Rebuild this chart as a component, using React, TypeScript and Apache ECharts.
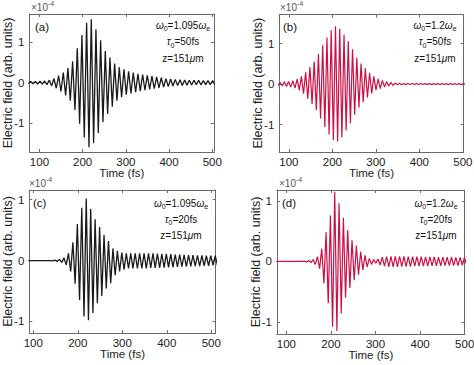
import React, { useEffect, useRef } from 'react';
import * as echarts from 'echarts';

// ---- data (units of 1e-4 arb. units, time in fs) ----
const xTicks = [100, 200, 300, 400, 500];
const yTicks = [-1, 0, 1];

// (a) omega0 = 1.095 omega_e, tau0 = 50 fs : extrema of the field
const timeA = [74.2, 79.6, 85.0, 90.4, 95.8, 101.2, 106.6, 112.0, 117.4, 122.8,
  128.2, 133.6, 139.0, 144.4, 149.8, 155.2, 160.6, 166.0, 171.4, 176.8,
  182.2, 187.6, 193.0, 198.4, 203.8, 209.2, 214.6, 220.0, 225.4, 230.8,
  236.2, 241.6, 247.0, 252.4, 257.8, 263.2, 268.6, 274.0, 279.4, 284.8,
  290.2, 295.6, 301.0, 306.4, 311.8, 317.2, 322.6, 328.0, 333.4, 338.8,
  344.2, 349.6, 355.0, 360.4, 365.8, 371.2, 376.6, 382.0, 387.4, 392.8,
  398.2, 403.6, 409.0, 414.4, 419.8, 425.2, 430.6, 436.0, 441.4, 446.8,
  452.2, 457.6, 463.0, 468.4, 473.8, 479.2, 484.6, 490.0, 495.4, 500.8,
  506.2];
const fieldA = [-0.03, 0.03, -0.03, 0.03, -0.035, 0.035, -0.04, 0.04, -0.05, 0.06,
  -0.08, 0.1, -0.14, 0.17, -0.22, 0.25, -0.32, 0.36, -0.45, 0.53,
  -0.68, 0.85, -1.02, 1.18, -1.36, 1.48, -1.6, 1.57, -1.5, 1.32,
  -1.25, 1.05, -0.98, 0.78, -0.78, 0.62, -0.6, 0.47, -0.45, 0.38,
  -0.36, 0.33, -0.3, 0.28, -0.27, 0.25, -0.24, 0.22, -0.21, 0.2,
  -0.19, 0.18, -0.17, 0.16, -0.15, 0.14, -0.13, 0.12, -0.11, 0.1,
  -0.1, 0.09, -0.085, 0.08, -0.075, 0.07, -0.07, 0.065, -0.065, 0.06,
  -0.06, 0.06, -0.055, 0.055, -0.055, 0.05, -0.05, 0.05, -0.05, 0.05,
  -0.05];

// (b) omega0 = 1.2 omega_e, tau0 = 50 fs
const timeB = [74.9, 79.8, 84.7, 89.6, 94.5, 99.4, 104.3, 109.2, 114.1, 119.0,
  123.9, 128.8, 133.7, 138.6, 143.5, 148.4, 153.3, 158.2, 163.1, 168.0,
  172.9, 177.8, 182.7, 187.6, 192.5, 197.4, 202.3, 207.2, 212.1, 217.0,
  221.9, 226.8, 231.7, 236.6, 241.5, 246.4, 251.3, 256.2, 261.1, 266.0,
  270.9, 275.8, 280.7, 285.6, 290.5, 295.4, 300.3, 305.2, 310.1, 315.0,
  319.9, 324.8, 329.7, 334.6, 339.5, 344.4, 349.3, 354.2, 359.1, 364.0,
  368.9, 373.8, 378.7, 383.6, 388.5, 393.4, 398.3, 403.2, 408.1, 413.0,
  417.9, 422.8, 427.7, 432.6, 437.5, 442.4, 447.3, 452.2, 457.1, 462.0,
  466.9, 471.8, 476.7, 481.6, 486.5, 491.4, 496.3, 501.2, 506.1];
const fieldB = [-0.04, 0.045, -0.05, 0.055, -0.06, 0.065, -0.075, 0.085, -0.1, 0.12,
  -0.15, 0.19, -0.24, 0.29, -0.36, 0.42, -0.49, 0.56, -0.65, 0.74,
  -0.85, 0.96, -1.06, 1.15, -1.25, 1.33, -1.38, 1.43, -1.42, 1.37,
  -1.32, 1.22, -1.15, 1.06, -0.97, 0.86, -0.76, 0.65, -0.58, 0.51,
  -0.45, 0.39, -0.33, 0.28, -0.23, 0.19, -0.15, 0.13, -0.11, 0.09,
  -0.075, 0.06, -0.05, 0.04, -0.032, 0.025, -0.02, 0.018, -0.016, 0.015,
  -0.014, 0.014, -0.013, 0.013, -0.013, 0.012, -0.012, 0.012, -0.012, 0.011,
  -0.011, 0.011, -0.011, 0.011, -0.01, 0.01, -0.01, 0.01, -0.01, 0.01,
  -0.01, 0.01, -0.01, 0.01, -0.01, 0.01, -0.01, 0.01, -0.01];

// (c) omega0 = 1.095 omega_e, tau0 = 20 fs
const timeC = [89, 94, 99, 104, 109, 114, 119, 124, 129, 134,
  139, 144, 149, 154, 159, 164, 169, 174, 179, 184,
  189, 194, 199, 204, 209, 214, 219, 224, 229, 234,
  239, 244, 249, 254, 259, 264, 269, 274, 279, 284,
  289, 294, 299, 304, 309, 314, 319, 324, 329, 334,
  339, 344, 349, 354, 359, 364, 369, 374, 379, 384,
  389, 394, 399, 404, 409, 414, 419, 424, 429, 434,
  439, 444, 449, 454, 459, 464, 469, 474, 479, 484,
  489, 494, 499, 504, 509, 514];
const fieldC = [0, 0, 0, 0, 0, 0, 0, 0, 0, 0,
  0, -0.005, 0.008, -0.012, 0.02, -0.03, 0.045, -0.07, 0.12, -0.18,
  0.3, -0.38, 0.6, -0.65, 0.87, -0.92, 1.02, -0.98, 0.85, -0.86,
  0.68, -0.7, 0.55, -0.58, 0.42, -0.46, 0.32, -0.37, 0.2, -0.24,
  0.16, -0.18, 0.13, -0.15, 0.12, -0.13, 0.12, -0.13, 0.12, -0.13,
  0.12, -0.13, 0.12, -0.13, 0.12, -0.12, 0.12, -0.12, 0.115, -0.12,
  0.11, -0.115, 0.11, -0.11, 0.105, -0.11, 0.1, -0.105, 0.1, -0.1,
  0.095, -0.1, 0.09, -0.095, 0.09, -0.09, 0.085, -0.09, 0.085, -0.085,
  0.08, -0.085, 0.08, -0.08, 0.08, -0.08];

// (d) omega0 = 1.2 omega_e, tau0 = 20 fs
const timeD = [77.55, 82.4, 87.25, 92.1, 96.95, 101.8, 106.65, 111.5, 116.35, 121.2,
  126.05, 130.9, 135.75, 140.6, 145.45, 150.3, 155.15, 160.0, 164.85, 169.7,
  174.55, 179.4, 184.25, 189.1, 193.95, 198.8, 203.65, 208.5, 213.35, 218.2,
  223.05, 227.9, 232.75, 237.6, 242.45, 247.3, 252.15, 257.0, 261.85, 266.7,
  271.55, 276.4, 281.25, 286.1, 290.95, 295.8, 300.65, 305.5, 310.35, 315.2,
  320.05, 324.9, 329.75, 334.6, 339.45, 344.3, 349.15, 354.0, 358.85, 363.7,
  368.55, 373.4, 378.25, 383.1, 387.95, 392.8, 397.65, 402.5, 407.35, 412.2,
  417.05, 421.9, 426.75, 431.6, 436.45, 441.3, 446.15, 451.0, 455.85, 460.7,
  465.55, 470.4, 475.25, 480.1, 484.95, 489.8, 494.65, 499.5, 504.35];
const fieldD = [0, 0, 0, 0, 0, 0, 0, 0, 0, 0,
  0, 0, 0, 0.005, -0.01, 0.015, -0.02, 0.03, -0.05, 0.08,
  -0.12, 0.21, -0.36, 0.48, -0.69, 0.76, -1.08, 1.15, -1.15, 0.96,
  -0.86, 0.72, -0.6, 0.52, -0.44, 0.35, -0.31, 0.26, -0.22, 0.16,
  -0.14, 0.1, -0.09, 0.05, -0.05, 0.03, -0.03, 0.04, -0.06, 0.07,
  -0.08, 0.08, -0.09, 0.085, -0.09, 0.085, -0.09, 0.085, -0.085, 0.085,
  -0.085, 0.08, -0.085, 0.08, -0.08, 0.08, -0.08, 0.08, -0.08, 0.075,
  -0.08, 0.075, -0.075, 0.075, -0.075, 0.07, -0.075, 0.07, -0.07, 0.07,
  -0.07, 0.07, -0.07, 0.065, -0.07, 0.065, -0.065, 0.065, -0.065];

const panelLabels = ['(a)', '(b)', '(c)', '(d)'];
const omegaTexts = ['1.095', '1.2', '1.095', '1.2'];
const tauTexts = ['50fs', '50fs', '20fs', '20fs'];
const zText = 'z=151';

const FONT = "'Liberation Sans', Arial, Helvetica, sans-serif";
const AXIS_COLOR = '#6a6a6a';
const TEXT_COLOR = '#222222';

const layouts = [
  { left: 29.5, top: 14, width: 184.5, height: 138, xMin: 77, xMax: 504, yMin: -1.72, yMax: 1.7, color: '#1a1a1a', lw: 1.3 },
  { left: 279.3, top: 14.5, width: 184.4, height: 137.5, xMin: 78, xMax: 502, yMin: -1.68, yMax: 1.72, color: '#cc1045', lw: 1.2 },
  { left: 29.3, top: 190, width: 186.4, height: 143, xMin: 91, xMax: 510, yMin: -1.19, yMax: 1.16, color: '#1a1a1a', lw: 1.3 },
  { left: 277, top: 190, width: 187.7, height: 144, xMin: 79, xMax: 500, yMin: -1.2, yMax: 1.18, color: '#cc1045', lw: 1.2 },
];

const seriesData = [
  [timeA, fieldA],
  [timeB, fieldB],
  [timeC, fieldC],
  [timeD, fieldD],
];

// annotation anchors (centre x, first line y)
const annot = [
  { cx: 183, y0: 25, dy: 16.5, lx: 35, ly: 27, ex: 31, ey: 7 },
  { cx: 435, y0: 25, dy: 16.5, lx: 283, ly: 27, ex: 280, ey: 7 },
  { cx: 181, y0: 203, dy: 16, lx: 33, ly: 203, ex: 29, ey: 183 },
  { cx: 436, y0: 203, dy: 16, lx: 282, ly: 203, ex: 279, ey: 183 },
];

export default function App() {
  const ref = useRef<HTMLDivElement>(null);

  useEffect(() => {
    if (!ref.current) return;
    const chart = echarts.init(ref.current, null, { renderer: 'svg' });

    const grid: any[] = [];
    const xAxis: any[] = [];
    const yAxis: any[] = [];
    const series: any[] = [];
    const graphic: any[] = [];

    const richBase = {
      n: { fontSize: 10, lineHeight: 14, fontFamily: FONT, fill: '#111' },
      i: { fontSize: 10, lineHeight: 14, fontFamily: FONT, fontStyle: 'italic', fill: '#111' },
      s: { fontSize: 7, lineHeight: 8, fontFamily: FONT, verticalAlign: 'bottom', fill: '#111' },
      p: { fontSize: 7, lineHeight: 8, fontFamily: FONT, verticalAlign: 'top', fill: '#555' },
      g: { fontSize: 10, lineHeight: 14, fontFamily: FONT, fill: '#555' },
    };

    layouts.forEach((L, k) => {
      grid.push({ left: L.left, top: L.top, width: L.width, height: L.height, containLabel: false, outerBoundsMode: 'none' });
      const tickStyle = { lineStyle: { color: AXIS_COLOR, width: 1 } };
      xAxis.push({
        type: 'value', gridIndex: k, min: L.xMin, max: L.xMax, position: 'bottom',
        axisLine: { show: true, onZero: false, lineStyle: { color: AXIS_COLOR, width: 1 } },
        axisTick: { show: true, inside: true, length: 3, customValues: xTicks, ...tickStyle },
        axisLabel: { show: true, customValues: xTicks, color: TEXT_COLOR, fontSize: 11.5, fontFamily: FONT, margin: 4 },
        splitLine: { show: false },
        name: 'Time (fs)', nameLocation: 'middle', nameGap: 15, nameMoveOverlap: false,
        nameTextStyle: { color: TEXT_COLOR, fontSize: 11.5, fontFamily: FONT },
      });
      xAxis.push({
        type: 'value', gridIndex: k, min: L.xMin, max: L.xMax, position: 'top',
        axisLine: { show: true, onZero: false, lineStyle: { color: AXIS_COLOR, width: 1 } },
        axisTick: { show: true, inside: true, length: 3, customValues: xTicks, ...tickStyle },
        axisLabel: { show: false },
        splitLine: { show: false },
      });
      yAxis.push({
        type: 'value', gridIndex: k, min: L.yMin, max: L.yMax, position: 'left',
        axisLine: { show: true, onZero: false, lineStyle: { color: AXIS_COLOR, width: 1 } },
        axisTick: { show: true, inside: true, length: 3, customValues: yTicks, ...tickStyle },
        axisLabel: { show: true, customValues: yTicks, color: TEXT_COLOR, fontSize: 11.5, fontFamily: FONT, margin: 5 },
        splitLine: { show: false },
        name: 'Electric field (arb. units)', nameLocation: 'middle', nameGap: 15, nameMoveOverlap: false,
        nameTextStyle: { color: TEXT_COLOR, fontSize: 12.5, fontFamily: FONT },
      });
      yAxis.push({
        type: 'value', gridIndex: k, min: L.yMin, max: L.yMax, position: 'right',
        axisLine: { show: true, onZero: false, lineStyle: { color: AXIS_COLOR, width: 1 } },
        axisTick: { show: true, inside: true, length: 3, customValues: yTicks, ...tickStyle },
        axisLabel: { show: false },
        splitLine: { show: false },
      });
      const [ts, vs] = seriesData[k];
      series.push({
        type: 'line', xAxisIndex: 2 * k, yAxisIndex: 2 * k,
        data: ts.map((t, j) => [t, vs[j]]),
        showSymbol: false, symbol: 'none', clip: true, smooth: false,
        lineStyle: { color: L.color, width: L.lw },
        silent: true,
      });

      const A = annot[k];
      graphic.push({
        type: 'text', x: A.lx, y: A.ly, silent: true,
        style: { text: panelLabels[k], fill: '#111', font: `11.5px ${FONT}`, textAlign: 'left', textVerticalAlign: 'middle' },
      });
      graphic.push({
        type: 'text', x: A.cx, y: A.y0, silent: true,
        style: {
          text: `{i|ω}{s|0}{n|=${omegaTexts[k]}}{i|ω}{s|e}`, rich: richBase,
          textAlign: 'center', textVerticalAlign: 'middle', fill: '#111', font: `10px ${FONT}`,
        },
      });
      graphic.push({
        type: 'text', x: A.cx, y: A.y0 + A.dy, silent: true,
        style: {
          text: `{i|τ}{s|0}{n|=${tauTexts[k]}}`, rich: richBase,
          textAlign: 'center', textVerticalAlign: 'middle', fill: '#111', font: `10px ${FONT}`,
        },
      });
      graphic.push({
        type: 'text', x: A.cx, y: A.y0 + 2 * A.dy, silent: true,
        style: {
          text: `{n|${zText}}{i|μ}{n|m}`, rich: richBase,
          textAlign: 'center', textVerticalAlign: 'middle', fill: '#111', font: `10px ${FONT}`,
        },
      });
      graphic.push({
        type: 'text', x: A.ex, y: A.ey, silent: true,
        style: {
          text: '{g|×10}{p|-4}', rich: richBase,
          textAlign: 'left', textVerticalAlign: 'middle', fill: '#555', font: `10px ${FONT}`,
        },
      });
    });

    chart.setOption({
      animation: false,
      backgroundColor: '#ffffff',
      grid, xAxis, yAxis, series, graphic,
    });

    return () => chart.dispose();
  }, []);

  return (
    <div
      ref={ref}
      style={{ position: 'absolute', left: 0, top: 0, width: 474, height: 365 }}
    />
  );
}
